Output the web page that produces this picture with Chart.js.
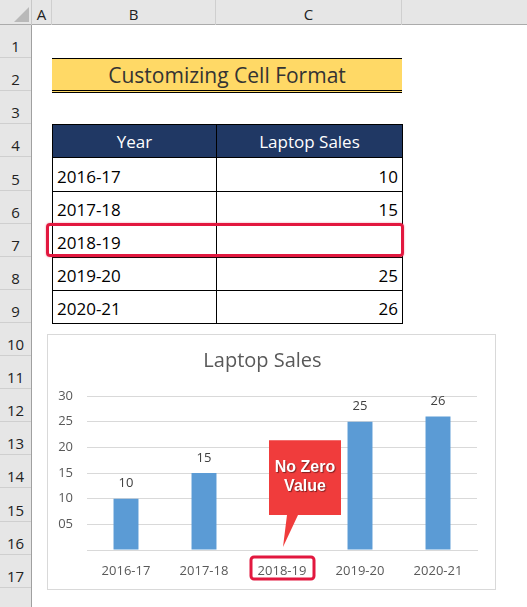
<!DOCTYPE html>
<html>
<head>
<meta charset="utf-8">
<script src="https://cdn.jsdelivr.net/npm/chart.js@4.4.1/dist/chart.umd.min.js"></script>
<style>
  html, body { margin:0; padding:0; background:#fff; }
  body { width:527px; height:607px; position:relative; overflow:hidden; font-family:"Open Sans", "DejaVu Sans", sans-serif; }
  .abs { position:absolute; box-sizing:border-box; }
  .colhdr { top:0; height:25px; background:#E6E6E6; border-bottom:1px solid #ABABAB; }
  .rowhdr { left:0; width:32px; background:#E6E6E6; border-right:1px solid #A0A0A0; }
  .hdrtxt { font-size:15px; color:#222; text-align:center; }
  .cell { border:1px solid #000; font-size:17px; color:#000; }
</style>
</head>
<body>
<div id="sheet"></div>
<div class="abs" id="chartBox" style="left:47px; top:334px; width:449px; height:256px; border:1px solid #D9D9D9; background:#fff;">
  <canvas id="c" width="447" height="254" style="display:block;"></canvas>
</div>
<script>
// ---- data ----
const categories = ["2016-17", "2017-18", "2018-19", "2019-20", "2020-21"];
const sales = [10, 15, null, 25, 26];
const yTicks = [0, 5, 10, 15, 20, 25, 30];
const chartTitle = "Laptop Sales";
const sheetTitle = "Customizing Cell Format";
const tableHeaders = ["Year", "Laptop Sales"];
const columnLetters = ["A", "B", "C"];
const calloutText = ["No Zero", "Value"];
const highlightCategory = "2018-19";

// ---- spreadsheet scaffold ----
const sheet = document.getElementById('sheet');
function el(cls, style, html) {
  const d = document.createElement('div');
  d.className = 'abs ' + cls;
  d.setAttribute('style', style);
  if (html !== undefined) d.innerHTML = html;
  sheet.appendChild(d);
  return d;
}
const colEdges = [32, 52, 216, 402];
const ROW_TOP = 25, ROW_H = 33.1;
const rowY = k => Math.round(ROW_TOP + ROW_H * (k - 1));
const rowH = k => rowY(k + 1) - rowY(k);

// column header bar
el('colhdr', 'left:0; width:527px;');
// corner triangle
el('', 'left:0; top:0; width:32px; height:25px; border-right:1px solid #C8C8C8;');
el('', 'left:14px; top:7px; width:0; height:0; border-left:15px solid transparent; border-bottom:15px solid #B9B9B9;');
for (let i = 0; i < columnLetters.length; i++) {
  const x0 = colEdges[i], x1 = colEdges[i + 1];
  el('hdrtxt', `left:${x0}px; top:0; width:${x1 - x0}px; height:25px; line-height:28px; border-right:1px solid #CFCFCF;`, columnLetters[i]);
}
// row header column
el('rowhdr', `top:25px; height:582px;`);
for (let k = 1; k <= 18; k++) {
  const y = rowY(k), h = rowH(k);
  el('hdrtxt', `left:0; top:${y}px; width:31px; height:${h}px; border-bottom:1px solid #CFCFCF; line-height:${h + 10}px; font-size:15px;`, k <= 17 ? String(k) : '');
}

// title cell (row 2, B:C)
el('', `left:52px; top:${rowY(2)}px; width:350px; height:${rowH(2) + 2}px; background:#FFD966; border-top:1px solid #000; border-bottom:3px double #000; text-align:center; line-height:${rowH(2)}px; font-size:21px; color:#333333;`, sheetTitle);

// table header (row 4)
el('', `left:52px; top:${rowY(4)}px; width:165px; height:${rowH(4) + 1}px; background:#203864; border:1px solid #000; color:#fff; text-align:center; font-size:17px; line-height:${rowH(4)}px;`, tableHeaders[0]);
el('', `left:216px; top:${rowY(4)}px; width:187px; height:${rowH(4) + 1}px; background:#203864; border:1px solid #000; color:#fff; text-align:center; font-size:17px; line-height:${rowH(4)}px;`, tableHeaders[1]);
for (let i = 0; i < categories.length; i++) {
  const k = 5 + i, y = rowY(k), h = rowH(k);
  el('cell', `left:52px; top:${y}px; width:165px; height:${h + 1}px; padding-left:4px; line-height:${h + 3}px;`, categories[i]);
  el('cell', `left:216px; top:${y}px; width:187px; height:${h + 1}px; padding-right:4px; text-align:right; line-height:${h + 3}px;`, sales[i] === null ? '' : String(sales[i]));
}
// red highlight box around the blank row
const blankIdx = sales.indexOf(null);
el('', `left:46px; top:${rowY(5 + blankIdx) - 1}px; width:358px; height:${rowH(5 + blankIdx) + 1}px; border:3px solid #E2183F; border-radius:4px; box-shadow:0 0 2px rgba(226,24,63,0.5);`);

// ---- chart ----
const dataLabelsPlugin = {
  id: 'dataLabels',
  afterDatasetsDraw(chart) {
    const ctx = chart.ctx;
    const meta = chart.getDatasetMeta(0);
    ctx.save();
    ctx.font = '13px "Open Sans", sans-serif';
    ctx.fillStyle = '#404040';
    ctx.textAlign = 'center';
    ctx.textBaseline = 'middle';
    meta.data.forEach((bar, i) => {
      const v = chart.data.datasets[0].data[i];
      if (v === null || v === undefined) return;
      ctx.fillText(String(v), bar.x, bar.y - 15);
    });
    ctx.restore();
  }
};

const calloutPlugin = {
  id: 'callout',
  afterDraw(chart) {
    const ctx = chart.ctx;
    const xs = chart.scales.x, ys = chart.scales.y;
    const cx = xs.getPixelForValue(categories.indexOf(highlightCategory));
    // callout box
    const left = cx - 13, right = cx + 59;
    const top = ys.getPixelForValue(21.4), bottom = ys.getPixelForValue(6.8);
    const tipX = cx + 1, tipY = ys.getPixelForValue(0.6);
    ctx.save();
    ctx.fillStyle = '#F03C3C';
    ctx.beginPath();
    ctx.moveTo(left, top);
    ctx.lineTo(right, top);
    ctx.lineTo(right, bottom);
    ctx.lineTo(cx + 16, bottom);
    ctx.lineTo(tipX, tipY);
    ctx.lineTo(cx + 5, bottom);
    ctx.lineTo(left, bottom);
    ctx.closePath();
    ctx.fill();
    ctx.font = 'bold 16px "Liberation Sans", Arial, sans-serif';
    ctx.textAlign = 'center';
    ctx.textBaseline = 'middle';
    const tx = (left + right) / 2;
    const midY = (top + bottom) / 2;
    ctx.shadowColor = 'rgba(0,0,0,0.45)';
    ctx.shadowOffsetX = 1;
    ctx.shadowOffsetY = 1;
    ctx.shadowBlur = 1;
    ctx.fillStyle = '#FFFFFF';
    ctx.fillText(calloutText[0], tx, midY - 10);
    ctx.fillText(calloutText[1], tx, midY + 9);
    ctx.restore();
    // highlight around category label
    ctx.save();
    ctx.strokeStyle = '#E2183F';
    ctx.lineWidth = 3;
    const hx = cx - 31, hy = chart.chartArea.bottom + 7, hw = 63, hh = 22;
    ctx.beginPath();
    if (ctx.roundRect) ctx.roundRect(hx, hy, hw, hh, 3); else ctx.rect(hx, hy, hw, hh);
    ctx.stroke();
    ctx.restore();
  }
};

new Chart(document.getElementById('c'), {
  type: 'bar',
  data: {
    labels: categories,
    datasets: [{
      label: chartTitle,
      data: sales,
      backgroundColor: '#5B9BD5',
      categoryPercentage: 1,
      barPercentage: 0.32
    }]
  },
  options: {
    responsive: false,
    devicePixelRatio: 1,
    animation: false,
    layout: { padding: { left: 0, right: 18, top: 0, bottom: 0 } },
    plugins: {
      legend: { display: false },
      tooltip: { enabled: false },
      title: {
        display: true,
        text: chartTitle,
        color: '#595959',
        font: { family: '"Open Sans", sans-serif', size: 20, weight: 'normal' },
        padding: { top: 14, bottom: 23 }
      }
    },
    scales: {
      x: {
        grid: { display: false },
        border: { display: true, color: '#D9D9D9' },
        ticks: { color: '#595959', font: { family: '"Open Sans", sans-serif', size: 13 }, padding: 5, maxRotation: 0 },
        afterFit: s => { s.height = 39; }
      },
      y: {
        min: yTicks[0],
        max: yTicks[yTicks.length - 1],
        afterBuildTicks: s => { s.ticks = yTicks.map(v => ({ value: v })); },
        grid: { color: '#D9D9D9', drawTicks: false },
        border: { display: false },
        ticks: {
          color: '#595959',
          font: { family: '"Open Sans", sans-serif', size: 13 },
          padding: 14,
          callback: v => v === 0 ? '' : String(v).padStart(2, '0')
        },
        afterFit: s => { s.width = 39; }
      }
    }
  },
  plugins: [dataLabelsPlugin, calloutPlugin]
});
</script>
</body>
</html>
